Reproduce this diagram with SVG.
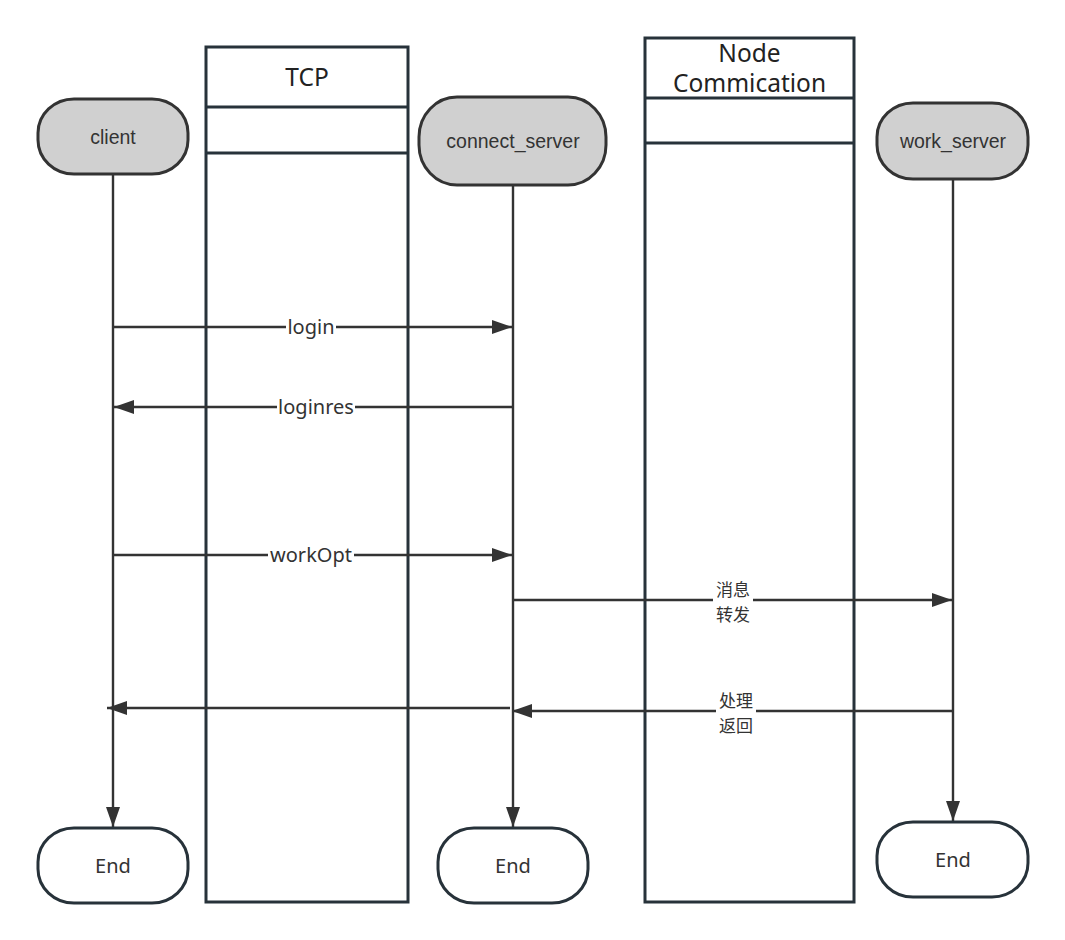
<svg xmlns="http://www.w3.org/2000/svg" width="1065" height="940" viewBox="0 0 1065 940">
<defs>
<style>
.term{fill:#d0d0d0;stroke:#333;stroke-width:3}
.end{fill:#fff;stroke:#27323a;stroke-width:3}
.lane{fill:#fff;stroke:#27323a;stroke-width:3}
.ln{fill:none;stroke:#333;stroke-width:2.4}
.t1{font-family:"Liberation Sans",Arial,sans-serif;font-size:19.5px;fill:#333;text-anchor:middle}
.t2{font-family:"Noto Sans","Noto Sans CJK SC",sans-serif;font-size:20px;fill:#333;text-anchor:middle}
.cj{font-family:"Noto Sans CJK SC",sans-serif;font-size:17px;fill:#333;text-anchor:middle}
.t3{font-family:"Noto Sans","Noto Sans CJK SC",sans-serif;font-size:24.5px;fill:#222;text-anchor:middle}
.lbl{fill:#fff}
</style>
<marker id="ah" viewBox="0 0 20 14" refX="20" refY="7" markerWidth="20" markerHeight="14" markerUnits="userSpaceOnUse" orient="auto">
<path d="M0,0 L20,7 L0,14 Z" fill="#333"/>
</marker>
</defs>
<rect width="1065" height="940" fill="#fff"/>

<g id="lane-tcp">
<rect class="lane" x="206" y="47" width="202" height="855"/>
<line class="lane" x1="206" y1="107" x2="408" y2="107"/>
<line class="lane" x1="206" y1="153" x2="408" y2="153"/>
<text class="t3" x="307" y="86">TCP</text>
</g>
<g id="lane-node">
<rect class="lane" x="645" y="38" width="209" height="864"/>
<line class="lane" x1="645" y1="98" x2="854" y2="98"/>
<line class="lane" x1="645" y1="143" x2="854" y2="143"/>
<text class="t3" x="749.500" y="62">Node</text>
<text class="t3" x="749.500" y="92">Commication</text>
</g>

<g id="connectors">
<line class="ln" x1="113" y1="174" x2="113" y2="827" marker-end="url(#ah)"/>
<line class="ln" x1="513" y1="185" x2="513" y2="827" marker-end="url(#ah)"/>
<line class="ln" x1="953" y1="179" x2="953" y2="821" marker-end="url(#ah)"/>
<line class="ln" x1="113" y1="327" x2="512" y2="327" marker-end="url(#ah)"/>
<line class="ln" x1="513" y1="407" x2="114" y2="407" marker-end="url(#ah)"/>
<line class="ln" x1="113" y1="555" x2="512" y2="555" marker-end="url(#ah)"/>
<line class="ln" x1="513" y1="600" x2="952" y2="600" marker-end="url(#ah)"/>
<line class="ln" x1="953" y1="711" x2="512" y2="711" marker-end="url(#ah)"/>
<line class="ln" x1="510" y1="708" x2="107" y2="708" marker-end="url(#ah)"/>
<rect class="lbl" x="286" y="317" width="50" height="20"/>
<text class="t2" x="311" y="334">login</text>
<rect class="lbl" x="277" y="397" width="78" height="20"/>
<text class="t2" x="316" y="414">loginres</text>
<rect class="lbl" x="268" y="545" width="86" height="20"/>
<text class="t2" x="311" y="562">workOpt</text>
<rect class="lbl" x="713" y="578" width="40" height="48"/>
<text class="cj" x="733" y="595.500">消息</text>
<text class="cj" x="733" y="620.500">转发</text>
<rect class="lbl" x="716" y="689" width="40" height="48"/>
<text class="cj" x="736" y="706.500">处理</text>
<text class="cj" x="736" y="731.500">返回</text>
</g>

<g id="client">
<rect class="term" x="38" y="99" width="150" height="75" rx="36" ry="34"/>
<text class="t1" x="113" y="144">client</text>
</g>
<g id="connect_server">
<rect class="term" x="419" y="97" width="187" height="88" rx="38" ry="40"/>
<text class="t1" x="513" y="148">connect_server</text>
</g>
<g id="work_server">
<rect class="term" x="877" y="103" width="151" height="76" rx="36" ry="34"/>
<text class="t1" x="953" y="148">work_server</text>
</g>
<g id="end-client">
<rect class="end" x="38" y="828" width="150" height="75" rx="36" ry="34"/>
<text class="t2" x="113" y="873">End</text>
</g>
<g id="end-connect">
<rect class="end" x="438" y="828" width="150" height="75" rx="36" ry="34"/>
<text class="t2" x="513" y="873">End</text>
</g>
<g id="end-work">
<rect class="end" x="877" y="822" width="151" height="75" rx="36" ry="34"/>
<text class="t2" x="953" y="867">End</text>
</g>
</svg>
